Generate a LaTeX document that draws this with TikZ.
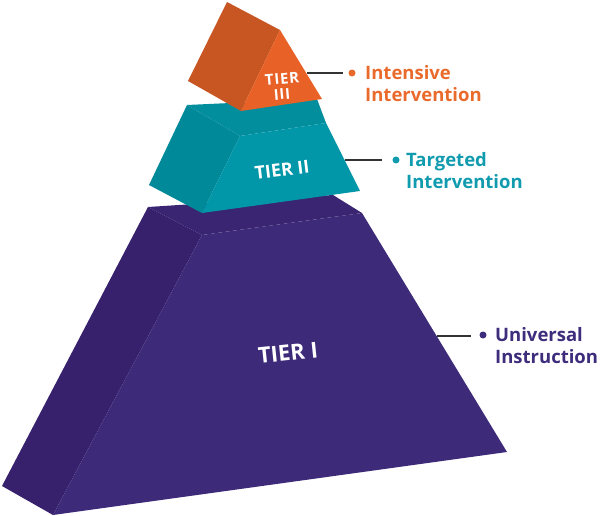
\documentclass[tikz,border=0pt]{standalone}
\usepackage{fontspec}
\setmainfont{Open Sans}
\definecolor{pfront}{RGB}{61,43,122}
\definecolor{pside}{RGB}{55,33,108}
\definecolor{ptop}{RGB}{57,37,113}
\definecolor{tfront}{RGB}{2,151,168}
\definecolor{tside}{RGB}{0,137,152}
\definecolor{ttop}{RGB}{3,142,158}
\definecolor{ofront}{RGB}{232,98,40}
\definecolor{oside}{RGB}{200,86,34}
\definecolor{otxt}{RGB}{234,106,44}
\definecolor{ttxt}{RGB}{16,155,174}
\definecolor{ptxt}{RGB}{62,44,124}
\tikzset{
  leader/.style={draw=black!80, line width=1.1pt},
  bullet/.style={circle, fill=#1, inner sep=0pt, minimum size=7pt},
  label/.style={text=#1, font=\bfseries\fontsize{18.5}{22}\selectfont, align=left, anchor=base west, inner sep=0pt},
  tier/.style={text=white, inner sep=0pt, align=center}
}
\begin{document}
\begin{tikzpicture}[x=1pt,y=-1pt]
\useasboundingbox (0,0) rectangle (600,516);
% Tier I
\coordinate (A1) at (148,207);
\coordinate (B1) at (202,235);
\coordinate (C1) at (362,213);
\coordinate (D1) at (333,195);
\coordinate (E1) at (507,452);
\coordinate (F1) at (53,515);
\coordinate (G1) at (2,486);
\fill[ptop] (A1) -- (D1) -- (C1) -- (B1) -- cycle;
\fill[pside] (A1) -- (B1) -- (F1) -- (G1) -- cycle;
\fill[pfront] (B1) -- (C1) -- (E1) -- (F1) -- cycle;
% Tier II
\coordinate (A2) at (187,105);
\coordinate (B2) at (240,136);
\coordinate (C2) at (326,123);
\coordinate (D2) at (317,99);
\coordinate (E2) at (360,191);
\coordinate (F2) at (202,213);
\coordinate (G2) at (149,185);
\fill[ttop] (A2) -- (D2) -- (C2) -- (B2) -- cycle;
\fill[tside] (A2) -- (B2) -- (F2) -- (G2) -- cycle;
\fill[tfront] (B2) -- (C2) -- (E2) -- (F2) -- cycle;
% Tier III
\coordinate (P3) at (227,2);
\coordinate (Q3) at (280,30);
\coordinate (R3) at (188,81);
\coordinate (S3) at (241,111);
\coordinate (T3) at (322,99);
\fill[oside] (P3) -- (Q3) -- (S3) -- (R3) -- cycle;
\fill[ofront] (Q3) -- (T3) -- (S3) -- cycle;
% tier names
\node[tier, rotate=6, font=\bfseries\fontsize{22}{24}\selectfont] (t1) at (288,353) {TIER I};
\node[tier, rotate=7, font=\bfseries\fontsize{18}{20}\selectfont] (t2) at (282,170) {TIER II};
\node[tier, rotate=5, font=\bfseries\fontsize{15}{15}\selectfont\addfontfeature{LetterSpace=5}] (t3a) at (282,78.5) {TIER};
\node[tier, rotate=5, font=\bfseries\fontsize{15}{15}\selectfont\addfontfeature{LetterSpace=5}] (t3b) at (282,94) {III};
% leaders
\coordinate (l3) at (307,73);
\node[bullet=otxt] (d3) at (352,73) {};
\draw[leader] (l3) -- (343,73) coordinate (l3e);
\node[label=otxt] (n3) at (365,101.6) {Intensive\\Intervention};
\coordinate (l2) at (345,160);
\node[bullet=ttxt] (d2) at (396,160) {};
\draw[leader] (l2) -- (382,160) coordinate (l2e);
\node[label=ttxt] (n2) at (406,189) {Targeted\\Intervention};
\coordinate (l1) at (437,336);
\node[bullet=ptxt] (d1) at (483,335) {};
\draw[leader] (l1) -- (471,336) coordinate (l1e);
\node[label=ptxt] (n1) at (495,363.6) {Universal\\Instruction};
\end{tikzpicture}
\end{document}
